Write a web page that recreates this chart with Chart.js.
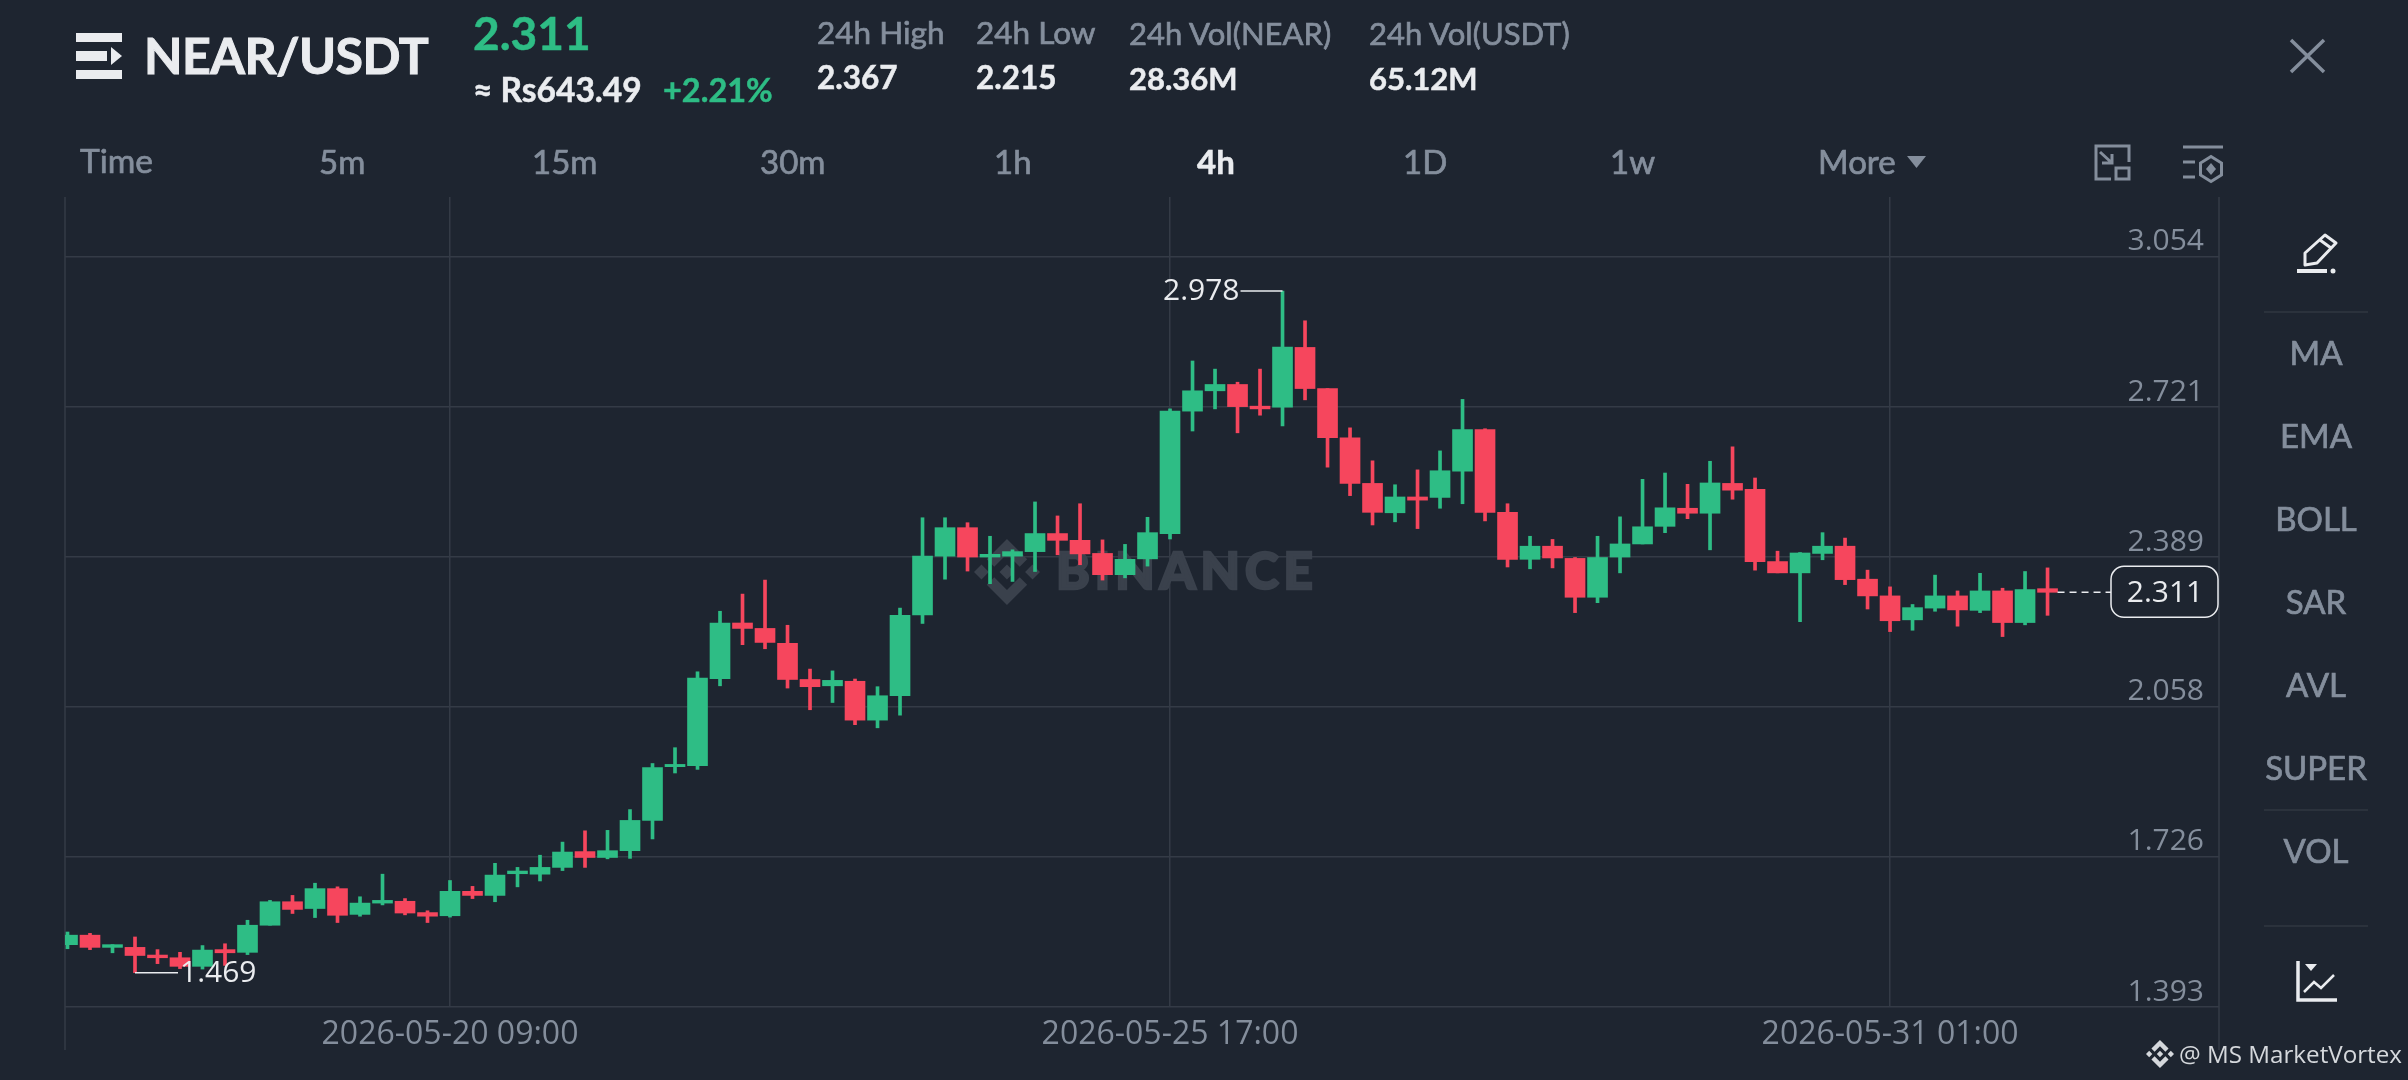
<!DOCTYPE html>
<html>
<head>
<meta charset="utf-8">
<title>NEAR/USDT</title>
<script src="https://cdn.jsdelivr.net/npm/chart.js@4/dist/chart.umd.min.js"></script>
<style>
  html, body { margin: 0; padding: 0; background: #1e2530; }
  #page { position: relative; width: 2408px; height: 1080px; overflow: hidden; font-family: Lato, sans-serif; }
  #page canvas { position: absolute; left: 0; top: 0; }
  .t { position: absolute; white-space: nowrap; transform: translateY(-50%); line-height: 1; }
  .c { transform: translate(-50%, -50%); }
  .grey { color: #848e9c; font-weight: 400; -webkit-text-stroke: 0.7px #848e9c; }
  .white { color: #eaecef; font-weight: 700; -webkit-text-stroke: 0.5px #eaecef; }
  .green { color: #2ebd85; font-weight: 700; -webkit-text-stroke: 0.5px #2ebd85; }
  svg { position: absolute; overflow: visible; }
  .rule { position: absolute; left: 2264px; width: 104px; height: 2px; background: #2b323c; }
</style>
</head>
<body>
<div id="page">
  <canvas id="chart" width="2408" height="1080"></canvas>

  <svg style="left:76px;top:33px" width="46" height="46" viewBox="0 0 46 46" fill="#eaecef">
    <rect width="46" height="9"/><rect y="37" width="46" height="9"/><rect y="18" width="31" height="10"/>
    <path d="M35 14 L46 23 L35 32 Z"/>
  </svg>
  <div class="t white" style="left:144px;top:55px;font-size:50px;letter-spacing:-0.5px;-webkit-text-stroke-width:1px">NEAR/USDT</div>
  <div class="t green" style="left:473px;top:33px;font-size:46px">2.311</div>
  <div class="t white" style="left:473px;top:90px;font-size:33.5px">≈ Rs643.49</div>
  <div class="t green" style="left:663px;top:90px;font-size:32.5px">+2.21%</div>

  <div class="t grey" style="left:817px;top:33px;font-size:31.5px">24h High</div>
  <div class="t white" style="left:817px;top:78px;font-size:31.5px">2.367</div>
  <div class="t grey" style="left:976px;top:33px;font-size:31.5px">24h Low</div>
  <div class="t white" style="left:976px;top:78px;font-size:31.5px">2.215</div>
  <div class="t grey" style="left:1129px;top:33px;font-size:31px">24h Vol(NEAR)</div>
  <div class="t white" style="left:1129px;top:78px;font-size:31px">28.36M</div>
  <div class="t grey" style="left:1369px;top:33px;font-size:31px">24h Vol(USDT)</div>
  <div class="t white" style="left:1369px;top:78px;font-size:31px">65.12M</div>

  <svg style="left:2290px;top:39px" width="35" height="34" viewBox="0 0 35 34" stroke="#848e9c" stroke-width="3.5" fill="none">
    <path d="M1 1 L34 33 M34 1 L1 33"/>
  </svg>

  <div class="t grey" style="left:80px;top:161px;font-size:33.5px">Time</div>
  <div class="t grey" style="left:319px;top:161px;font-size:33px">5m</div>
  <div class="t grey" style="left:532px;top:161px;font-size:33px">15m</div>
  <div class="t grey" style="left:760px;top:161px;font-size:33px">30m</div>
  <div class="t grey" style="left:994px;top:161px;font-size:33px">1h</div>
  <div class="t white" style="left:1197px;top:161px;font-size:33px">4h</div>
  <div class="t grey" style="left:1403px;top:161px;font-size:33px">1D</div>
  <div class="t grey" style="left:1610px;top:161px;font-size:33px">1w</div>
  <div class="t grey" style="left:1818px;top:161px;font-size:33px">More</div>
  <svg style="left:1907px;top:156px" width="19" height="12" viewBox="0 0 19 12" fill="#848e9c"><path d="M0 0 H19 L9.5 12 Z"/></svg>

  <svg style="left:2094px;top:144px" width="37" height="37" viewBox="0 0 37 37" stroke="#848e9c" stroke-width="3" fill="none">
    <path d="M17 35 H2 V2 H35 V18"/><path d="M6 8 L18 19 M18 10 V19 H8"/><rect x="22" y="24" width="13" height="11"/>
  </svg>
  <svg style="left:2183px;top:145px" width="40" height="37" viewBox="0 0 40 37" stroke="#848e9c" stroke-width="3" fill="none">
    <path d="M0 2 H40 M0 17 H12 M0 32 H12"/><path d="M28 11.5 L38.5 18 V30 L28 36.5 L17.5 30 V18 Z"/><path d="M28 18 L33 24 L28 30 L23 24 Z" fill="#848e9c" stroke="none"/>
  </svg>

  <svg style="left:2296px;top:234px" width="44" height="40" viewBox="0 0 44 40" stroke="#eaecef" stroke-width="3" fill="none">
    <path d="M29 1 L40 9 L21 29 L9 31 L9 19 Z M24 6 L35 14" stroke-linejoin="round"/><path d="M1 37 H31" stroke-width="4"/><circle cx="37" cy="37" r="2.5" fill="#eaecef" stroke="none"/>
  </svg>
  <div class="rule" style="top:311px"></div>
  <div class="t grey c" style="left:2316px;top:352px;font-size:33px">MA</div>
  <div class="t grey c" style="left:2316px;top:435px;font-size:33px">EMA</div>
  <div class="t grey c" style="left:2316px;top:518px;font-size:33px">BOLL</div>
  <div class="t grey c" style="left:2316px;top:601px;font-size:33px">SAR</div>
  <div class="t grey c" style="left:2316px;top:684px;font-size:33px">AVL</div>
  <div class="t grey c" style="left:2316px;top:767px;font-size:33px">SUPER</div>
  <div class="rule" style="top:809px"></div>
  <div class="t grey c" style="left:2316px;top:850px;font-size:33px">VOL</div>
  <div class="rule" style="top:925px"></div>
  <svg style="left:2296px;top:961px" width="41" height="41" viewBox="0 0 41 41" stroke="#eaecef" stroke-width="3.5" fill="none">
    <path d="M2 0 V39 H41"/><path d="M8 31 L18 21 L25 27 L38 14" stroke-width="2.5"/><path d="M9 3 H21 L15 10 Z" fill="#eaecef" stroke="none"/>
  </svg>

  <svg style="left:2146px;top:1040px" width="28" height="28" viewBox="0 0 24 24" fill="#d5d8dc"><path id="bnb" d="M16.624 13.92l2.718 2.716-7.353 7.353-7.353-7.352 2.717-2.717 4.636 4.66 4.635-4.66zm4.637-4.637L24 12l-2.715 2.716L18.568 12l2.693-2.717zm-9.272.001l2.716 2.692-2.716 2.717L9.272 12l2.716-2.716zm-9.272-.001L5.409 12l-2.691 2.692L0 12l2.716-2.717zM11.989.012l7.353 7.329-2.717 2.715-4.636-4.635-4.635 4.659-2.717-2.715 7.352-7.353z"/></svg>
  <div class="t" style="left:2179px;top:1054px;font-family:'Open Sans',sans-serif;font-size:24.2px;color:#d5d8dc">@ MS MarketVortex</div>
</div>

<script>
const opens = [1.531, 1.552, 1.525, 1.525, 1.508, 1.502, 1.483, 1.520, 1.514, 1.574, 1.626, 1.611, 1.655, 1.598, 1.623, 1.627, 1.602, 1.595, 1.649, 1.640, 1.688, 1.687, 1.702, 1.737, 1.724, 1.739, 1.806, 1.925, 1.927, 2.120, 2.243, 2.231, 2.198, 2.118, 2.104, 2.114, 2.028, 2.082, 2.261, 2.391, 2.454, 2.389, 2.391, 2.401, 2.441, 2.426, 2.397, 2.350, 2.385, 2.441, 2.712, 2.757, 2.771, 2.723, 2.721, 2.853, 2.762, 2.653, 2.552, 2.487, 2.522, 2.521, 2.579, 2.671, 2.488, 2.384, 2.413, 2.386, 2.300, 2.389, 2.418, 2.457, 2.497, 2.486, 2.552, 2.539, 2.379, 2.354, 2.397, 2.413, 2.340, 2.303, 2.250, 2.276, 2.303, 2.271, 2.314, 2.244, 2.319];
const highs = [1.559, 1.556, 1.531, 1.548, 1.520, 1.514, 1.529, 1.533, 1.585, 1.629, 1.640, 1.667, 1.659, 1.637, 1.687, 1.633, 1.606, 1.673, 1.660, 1.711, 1.702, 1.729, 1.758, 1.783, 1.784, 1.830, 1.932, 1.967, 2.135, 2.269, 2.307, 2.338, 2.238, 2.141, 2.137, 2.119, 2.102, 2.276, 2.476, 2.476, 2.465, 2.435, 2.405, 2.511, 2.480, 2.507, 2.427, 2.417, 2.477, 2.717, 2.823, 2.805, 2.776, 2.805, 2.978, 2.912, 2.762, 2.675, 2.602, 2.549, 2.582, 2.624, 2.738, 2.673, 2.507, 2.435, 2.428, 2.388, 2.435, 2.478, 2.561, 2.575, 2.550, 2.601, 2.633, 2.564, 2.402, 2.399, 2.443, 2.431, 2.360, 2.323, 2.284, 2.349, 2.314, 2.353, 2.320, 2.357, 2.365];
const lows = [1.522, 1.520, 1.513, 1.469, 1.489, 1.478, 1.477, 1.485, 1.509, 1.574, 1.600, 1.591, 1.580, 1.594, 1.619, 1.597, 1.580, 1.592, 1.633, 1.626, 1.659, 1.672, 1.695, 1.702, 1.721, 1.722, 1.765, 1.911, 1.919, 2.104, 2.195, 2.186, 2.099, 2.051, 2.067, 2.018, 2.011, 2.039, 2.242, 2.340, 2.358, 2.330, 2.335, 2.357, 2.394, 2.372, 2.338, 2.343, 2.369, 2.429, 2.668, 2.717, 2.664, 2.703, 2.679, 2.737, 2.588, 2.525, 2.460, 2.467, 2.452, 2.497, 2.507, 2.469, 2.367, 2.363, 2.365, 2.266, 2.288, 2.354, 2.418, 2.443, 2.474, 2.405, 2.517, 2.360, 2.354, 2.246, 2.383, 2.328, 2.274, 2.224, 2.227, 2.269, 2.236, 2.266, 2.213, 2.239, 2.260];
const closes = [1.552, 1.525, 1.531, 1.507, 1.502, 1.483, 1.519, 1.513, 1.574, 1.626, 1.609, 1.655, 1.596, 1.623, 1.629, 1.601, 1.594, 1.649, 1.640, 1.685, 1.694, 1.702, 1.736, 1.724, 1.739, 1.806, 1.923, 1.930, 2.121, 2.243, 2.231, 2.200, 2.118, 2.102, 2.116, 2.028, 2.082, 2.260, 2.391, 2.454, 2.389, 2.395, 2.401, 2.441, 2.426, 2.396, 2.350, 2.384, 2.443, 2.712, 2.757, 2.771, 2.722, 2.717, 2.854, 2.762, 2.653, 2.552, 2.488, 2.522, 2.515, 2.580, 2.671, 2.488, 2.384, 2.413, 2.387, 2.300, 2.388, 2.418, 2.456, 2.498, 2.486, 2.553, 2.537, 2.379, 2.354, 2.398, 2.413, 2.339, 2.303, 2.248, 2.277, 2.303, 2.272, 2.314, 2.244, 2.317, 2.311];

const priceTicks = [3.054, 2.721, 2.389, 2.058, 1.726, 1.393];
const dateTickIndex = [17, 49, 81];
const dateTickLabels = ['2026-05-20 09:00', '2026-05-25 17:00', '2026-05-31 01:00'];

const UP = '#2ebd85';
const DOWN = '#f6465d';
const GRID = '#343b46';
const BG = '#1e2530';
const LOGO = new Path2D(document.getElementById('bnb').getAttribute('d'));

const candleColors = closes.map((c, i) => (c >= opens[i] ? UP : DOWN));
const wicks = highs.map((h, i) => ({ x: i, y: [lows[i], h] }));
const bodies = closes.map((c, i) => ({ x: i, y: [opens[i], c] }));

const overlay = {
  id: 'overlay',
  beforeDatasetsDraw(chart) {
    const { ctx } = chart;
    const { left, right, top } = chart.chartArea;
    ctx.save();
    // frame runs past the plot down to the bottom strip
    ctx.strokeStyle = GRID;
    ctx.lineWidth = 1.5;
    ctx.beginPath();
    ctx.moveTo(left, top);
    ctx.lineTo(left, 1050);
    ctx.moveTo(right, top);
    ctx.lineTo(right, 1050);
    ctx.stroke();
    // watermark
    ctx.fillStyle = '#3a414c';
    ctx.strokeStyle = '#3a414c';
    ctx.save();
    ctx.translate(974, 539);
    ctx.scale(66 / 24, 66 / 24);
    ctx.fill(LOGO);
    ctx.restore();
    ctx.font = '900 51px Lato';
    ctx.letterSpacing = '5px';
    ctx.textBaseline = 'middle';
    ctx.lineWidth = 2.5;
    ctx.fillText('BINANCE', 1056, 573);
    ctx.strokeText('BINANCE', 1056, 573);
    ctx.restore();
  },
  afterDatasetsDraw(chart) {
    const { ctx, scales: { x, y } } = chart;
    ctx.save();
    ctx.font = "30px 'Open Sans'";
    ctx.fillStyle = '#eaecef';
    ctx.strokeStyle = '#eaecef';
    ctx.lineWidth = 1.5;
    ctx.textBaseline = 'middle';

    // highest high, label to the left
    const hi = highs.indexOf(Math.max(...highs));
    ctx.beginPath();
    ctx.moveTo(x.getPixelForValue(hi), y.getPixelForValue(highs[hi]));
    ctx.lineTo(x.getPixelForValue(hi) - 42, y.getPixelForValue(highs[hi]));
    ctx.stroke();
    ctx.textAlign = 'right';
    ctx.fillText(highs[hi].toFixed(3), x.getPixelForValue(hi) - 43, y.getPixelForValue(highs[hi]));

    // lowest low, label to the right
    const lo = lows.indexOf(Math.min(...lows));
    ctx.beginPath();
    ctx.moveTo(x.getPixelForValue(lo), y.getPixelForValue(lows[lo]));
    ctx.lineTo(x.getPixelForValue(lo) + 43, y.getPixelForValue(lows[lo]));
    ctx.stroke();
    ctx.textAlign = 'left';
    ctx.fillText(lows[lo].toFixed(3), x.getPixelForValue(lo) + 45, y.getPixelForValue(lows[lo]) + 1);

    // last price line and tag
    const last = closes.length - 1;
    const py = y.getPixelForValue(closes[last]);
    ctx.setLineDash([7, 5]);
    ctx.beginPath();
    ctx.moveTo(x.getPixelForValue(last) + 10, py);
    ctx.lineTo(2111, py);
    ctx.stroke();
    ctx.setLineDash([]);
    ctx.beginPath();
    ctx.roundRect(2111, py - 26, 107, 51, 13);
    ctx.fillStyle = BG;
    ctx.fill();
    ctx.stroke();
    ctx.fillStyle = '#eaecef';
    ctx.textAlign = 'center';
    ctx.fillText(closes[last].toFixed(3), 2165, py + 1);
    ctx.restore();
  },
};

new Chart(document.getElementById('chart').getContext('2d'), {
  type: 'bar',
  data: {
    datasets: [
      { data: wicks, backgroundColor: candleColors, barThickness: 3, grouped: false, order: 2 },
      { data: bodies, backgroundColor: candleColors, barThickness: 20, grouped: false, order: 1 },
    ],
  },
  options: {
    responsive: false,
    animation: false,
    layout: { padding: { left: 65, right: 189, top: 197, bottom: 0 } },
    plugins: { legend: { display: false }, tooltip: { enabled: false } },
    scales: {
      x: {
        type: 'linear',
        min: -0.111,
        max: 95.62,
        offset: false,
        grid: { color: GRID, lineWidth: 1.5, drawTicks: false, offset: false },
        border: { display: false },
        afterBuildTicks(scale) {
          scale.ticks = dateTickIndex.map(value => ({ value }));
        },
        afterFit(scale) {
          scale.height = 73;
        },
        ticks: {
          autoSkip: false,
          maxRotation: 0,
          padding: 9,
          color: '#848e9c',
          font: { family: 'Open Sans', size: 32 },
          callback(value) {
            return dateTickLabels[dateTickIndex.indexOf(value)];
          },
        },
      },
      y: {
        position: 'right',
        min: 1.393,
        max: 3.186,
        grid: { color: GRID, lineWidth: 1.5, drawTicks: false },
        border: { display: false },
        afterBuildTicks(scale) {
          scale.ticks = priceTicks.map(value => ({ value }));
        },
        afterFit(scale) {
          scale.width = 0;
        },
        ticks: {
          mirror: true,
          padding: -15,
          labelOffset: -15,
          color: '#848e9c',
          font: { family: 'Open Sans', size: 30 },
          callback(value) {
            return value.toFixed(3);
          },
        },
      },
    },
  },
  plugins: [overlay],
});
</script>
</body>
</html>
